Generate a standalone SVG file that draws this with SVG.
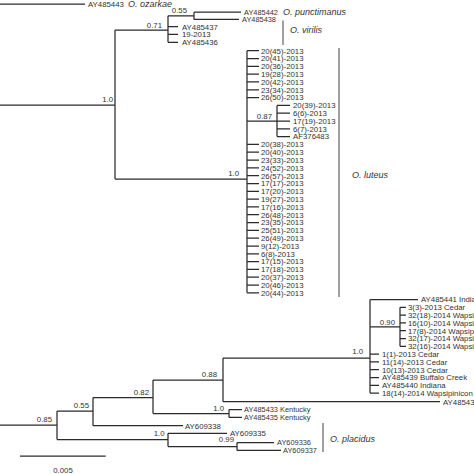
<svg xmlns="http://www.w3.org/2000/svg" width="474" height="474" viewBox="0 0 474 474">
<style>
text{font-family:"Liberation Sans",Arial,sans-serif;font-size:7.8px;fill:#333}
.sm{font-size:7.4px}
.sp{font-size:9px;font-style:italic;fill:#333}
.bs{text-anchor:end}
.br{fill:none;stroke:#2b2b2b;stroke-width:1.25}
.bar{stroke:#808080;stroke-width:1.5}
</style>
<rect width="474" height="474" fill="#fff"/>
<g id="connectors" class="br">
<path d="M-1 4H85M-1 105H115M115 30V179M115 30H168M168 15.8V42.3M168 15.8H194M194 12.2V19.4M194 12.2H241M194 19.4H239M168 26.7H178M168 34.3H178M168 42.3H178M115 179H247M247 50.7V292.8"/>
<path d="M247 50.7H259M247 58.5H259M247 66.3H259M247 74.1H259M247 81.9H259M247 89.8H259M247 97.6H259M247 121H277M277 105.4V136.6M277 105.4H290M277 113.2H290M277 121H290M277 128.8H290M277 136.6H290M247 144.4H259M247 152.2H259M247 160H259M247 167.9H259M247 175.7H259M247 183.5H259M247 191.3H259M247 199.1H259M247 206.9H259M247 214.7H259M247 222.5H259M247 230.3H259M247 238.1H259M247 246H259M247 253.8H259M247 261.6H259M247 269.4H259M247 277.2H259M247 285H259M247 292.8H259"/>
<path d="M-1 425H57M57 411V439.5M57 411H93M93 397.5V425.7M93 397.5H153M93 425.7H183M153 380V413.5M153 380H223M153 413.5H229M229 409.6V417.4M229 409.6H242M229 417.4H242M223 358V401.7M223 358H370M223 401.7H440M370 299.5V393.1M370 299.5H418M370 326.8H400M400 307.3V346.3M400 307.3H406M400 315.1H406M400 322.9H406M400 330.7H406M400 338.5H406M400 346.3H406M370 354.1H379M370 361.9H379M370 369.7H379M370 377.5H379M370 385.3H379M370 393.1H379M57 439.5H168M168 433.3V446.5M168 433.3H227M168 446.5H237M237 442.6V450.4M237 442.6H274M237 450.4H281"/>
<path d="M20 456H105.7"/>
</g>
<g id="species-bars">
<line class="bar" x1="283" y1="20.5" x2="283" y2="45"/>
<line class="bar" x1="339" y1="48" x2="339" y2="297"/>
<line class="bar" x1="323" y1="423" x2="323" y2="452"/>
</g>
<g id="support">
<text class="bs" x="113" y="101.5">1.0</text>
<text class="bs" x="162" y="27.5">0.71</text>
<text class="bs" x="187" y="12.5">0.55</text>
<text class="bs" x="239" y="175.5">1.0</text>
<text class="bs" x="272" y="119">0.87</text>
<text class="bs" x="52" y="422">0.85</text>
<text class="bs" x="89" y="408">0.55</text>
<text class="bs" x="149" y="394.5">0.82</text>
<text class="bs" x="217" y="377">0.88</text>
<text class="bs" x="224" y="411">1.0</text>
<text class="bs" x="164.5" y="436">1.0</text>
<text class="bs" x="234" y="442">0.99</text>
<text class="bs" x="363" y="354">1.0</text>
<text class="bs" x="395" y="324.5">0.90</text>
</g>
<g id="ozarkae"><text x="88" y="6.8">AY485443</text><text class="sp" x="128" y="7">O. ozarkae</text></g>
<g id="punctimanus"><text class="sm" x="244" y="14.8">AY485442</text><text class="sp" x="283" y="15.2">O. punctimanus</text></g>
<g id="virilis">
<text class="sm" x="242" y="22.1">AY485438</text>
<text x="182" y="29.5">AY485437</text>
<text x="182" y="37.1">19-2013</text>
<text x="182" y="45.1">AY485436</text>
<text class="sp" x="290" y="33">O. virilis</text>
</g>
<g id="luteus">
<text x="261" y="53.5">20(45)-2013</text>
<text x="261" y="61.3">20(41)-2013</text>
<text x="261" y="69.1">20(36)-2013</text>
<text x="261" y="76.9">19(28)-2013</text>
<text x="261" y="84.7">20(42)-2013</text>
<text x="261" y="92.6">23(34)-2013</text>
<text x="261" y="100.4">26(50)-2013</text>
<text x="293" y="108.2">20(39)-2013</text>
<text x="293" y="116">6(6)-2013</text>
<text x="293" y="123.8">17(19)-2013</text>
<text x="293" y="131.6">6(7)-2013</text>
<text x="293" y="139.4">AF376483</text>
<text x="261" y="147.2">20(38)-2013</text>
<text x="261" y="155">20(40)-2013</text>
<text x="261" y="162.8">23(33)-2013</text>
<text x="261" y="170.7">24(52)-2013</text>
<text x="261" y="178.5">26(57)-2013</text>
<text x="261" y="186.3">17(17)-2013</text>
<text x="261" y="194.1">17(20)-2013</text>
<text x="261" y="201.9">19(27)-2013</text>
<text x="261" y="209.7">17(16)-2013</text>
<text x="261" y="217.5">26(48)-2013</text>
<text x="261" y="225.3">23(35)-2013</text>
<text x="261" y="233.1">25(51)-2013</text>
<text x="261" y="240.9">26(49)-2013</text>
<text x="261" y="248.8">9(12)-2013</text>
<text x="261" y="256.6">6(8)-2013</text>
<text x="261" y="264.4">17(15)-2013</text>
<text x="261" y="272.2">17(18)-2013</text>
<text x="261" y="280">20(37)-2013</text>
<text x="261" y="287.8">20(46)-2013</text>
<text x="261" y="295.6">20(44)-2013</text>
<text class="sp" x="352" y="178">O. luteus</text>
</g>
<g id="clade-bottom">
<text x="421" y="302.3">AY485441 Indiana</text>
<text x="408" y="310.1">3(3)-2013 Cedar</text>
<text x="408" y="317.9">32(18)-2014 Wapsipinicon</text>
<text x="408" y="325.7">16(10)-2014 Wapsipinicon</text>
<text x="408" y="333.5">17(8)-2014 Wapsipinicon</text>
<text x="408" y="341.3">32(17)-2014 Wapsipinicon</text>
<text x="408" y="349.1">32(16)-2014 Wapsipinicon</text>
<text x="382" y="356.9">1(1)-2013 Cedar</text>
<text x="382" y="364.7">11(14)-2013 Cedar</text>
<text x="382" y="372.5">10(13)-2013 Cedar</text>
<text x="382" y="380.3">AY485439 Buffalo Creek</text>
<text x="382" y="388.1">AY485440 Indiana</text>
<text x="382" y="395.9">18(14)-2014 Wapsipinicon</text>
<text x="443" y="404.5">AY485434</text>
</g>
<g id="kentucky">
<text class="sm" x="244" y="412.3">AY485433 Kentucky</text>
<text class="sm" x="244" y="420.1">AY485435 Kentucky</text>
</g>
<g id="ay609338"><text x="185" y="428.5">AY609338</text></g>
<g id="placidus">
<text x="230" y="436.1">AY609335</text>
<text class="sm" x="277" y="445.3">AY609336</text>
<text class="sm" x="283" y="453.1">AY609337</text>
<text class="sp" x="330" y="442">O. placidus</text>
</g>
<g id="scale"><text x="63" y="473" text-anchor="middle">0.005</text></g>
</svg>
